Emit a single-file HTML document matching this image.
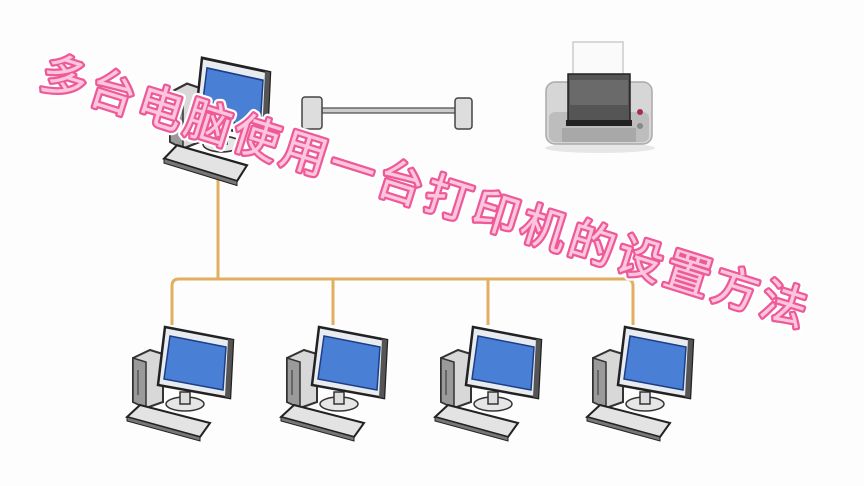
<!DOCTYPE html>
<html><head><meta charset="utf-8"><style>
html,body{margin:0;padding:0;background:#fdfdfd;}
svg{display:block;}
</style></head><body>
<svg width="864" height="486" viewBox="0 0 864 486" xmlns="http://www.w3.org/2000/svg">
<defs>
<g id="pc">
  <polygon points="3,38 20,30 33,34 33,82 16,88 3,82" fill="#d8d8d8" stroke="#333" stroke-width="2"/>
  <polygon points="3,38 16,42 16,88 3,82" fill="#9a9a9a" stroke="#333" stroke-width="1.5"/>
  <line x1="8" y1="50" x2="8" y2="75" stroke="#555" stroke-width="1.5"/>
  <ellipse cx="55" cy="84" rx="19" ry="7" fill="#e6e6e6" stroke="#333" stroke-width="1.5"/>
  <rect x="50" y="72" width="10" height="12" fill="#ddd" stroke="#333" stroke-width="1.5"/>
  <polygon points="35,7 103,20 100,78 28,65" fill="#e8ecf0" stroke="#222" stroke-width="2.5"/>
  <polygon points="98,19 103,20 100,78 95,77" fill="#555"/>
  <polygon points="40,16 96,27 93,70 34,59" fill="#4a7fd6" stroke="#1c3e86" stroke-width="1.5"/>
  <polygon points="-3,97 10,85 80,103 70,117" fill="#e3e3e3" stroke="#222" stroke-width="2"/>
  <polygon points="-3,97 70,117 70,121 -3,101" fill="#777" stroke="#222" stroke-width="1"/>
</g>
</defs>

<g fill="none" stroke="#e0b060" stroke-width="3">
  <line x1="218" y1="168" x2="218" y2="279"/>
  <path d="M172,325 V286 Q172,279 179,279 H626 Q633,279 633,286 V325"/>
  <line x1="333" y1="279" x2="333" y2="325"/>
  <line x1="488" y1="279" x2="488" y2="325"/>
</g>

<use href="#pc" transform="translate(167,50) scale(1,1.12)"/>

<use href="#pc" transform="translate(130,320)"/>
<use href="#pc" transform="translate(284,320)"/>
<use href="#pc" transform="translate(438,320)"/>
<use href="#pc" transform="translate(590,320)"/>

<rect x="322" y="108" width="134" height="5" fill="#ccc" stroke="#555" stroke-width="1.3"/>
<rect x="302" y="97" width="20" height="32" rx="3" fill="#ddd" stroke="#444" stroke-width="1.5"/>
<rect x="455" y="98" width="17" height="31" rx="3" fill="#ddd" stroke="#444" stroke-width="1.5"/>

<ellipse cx="600" cy="148" rx="55" ry="5" fill="#e6e6e6"/>
<rect x="573" y="42" width="50" height="42" fill="#fafafa" stroke="#ccc" stroke-width="1.5"/>
<rect x="546" y="82" width="106" height="62" rx="9" fill="#d6d6d6" stroke="#aaa" stroke-width="1.5"/>
<rect x="549" y="112" width="100" height="30" rx="6" fill="#bdbdbd"/>
<polygon points="568,74 630,74 630,125 568,125" fill="#555" stroke="#222" stroke-width="1.5"/>
<rect x="570" y="80" width="58" height="25" fill="#6a6a6a"/>
<rect x="566" y="120" width="66" height="6" fill="#222"/>
<rect x="562" y="128" width="74" height="14" fill="#a8a8a8"/>
<circle cx="640" cy="112" r="3" fill="#a03050"/>
<circle cx="640" cy="126" r="3" fill="#888"/>

<g font-family="'Liberation Sans','Noto Sans CJK SC',sans-serif" font-size="46" font-weight="normal">
<text x="38" y="86" transform="rotate(17.5 38 86)" textLength="800" lengthAdjust="spacing"
  fill="#fff" stroke="#ffffff" stroke-width="9" stroke-linejoin="round">多台电脑使用一台打印机的设置方法</text>
<text x="38" y="86" transform="rotate(17.5 38 86)" textLength="800" lengthAdjust="spacing"
  fill="#ee5a98" stroke="#ee5a98" stroke-width="4.5" stroke-linejoin="round">多台电脑使用一台打印机的设置方法</text>
<text x="38" y="86" transform="rotate(17.5 38 86)" textLength="800" lengthAdjust="spacing"
  fill="#fcc6de">多台电脑使用一台打印机的设置方法</text>
</g>
</svg>
</body></html>
